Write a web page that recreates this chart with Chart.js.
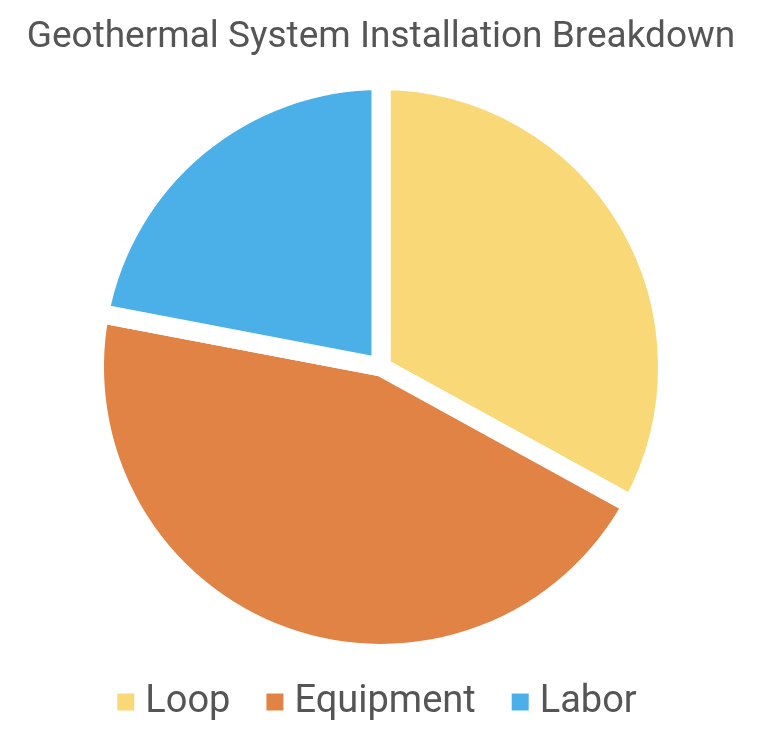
<!DOCTYPE html>
<html>
<head>
<meta charset="utf-8">
<script src="https://cdn.jsdelivr.net/npm/chart.js@4/dist/chart.umd.min.js"></script>
<style>
html,body{margin:0;padding:0;background:#ffffff;}
#wrap{width:768px;height:736px;position:relative;}
</style>
</head>
<body>
<div id="wrap"><canvas id="c"></canvas></div>
<script>
const categories = ['Loop', 'Equipment', 'Labor'];
const shares = [33, 45, 22];
const sliceColors = ['#F9D878', '#E08344', '#4CB0E8'];
const chartTitle = 'Geothermal System Installation Breakdown';

const textColor = '#555555';
const fontFamily = 'Roboto, "Noto Sans", sans-serif';

new Chart(document.getElementById('c'), {
  type: 'pie',
  data: {
    labels: categories,
    datasets: [{
      data: shares,
      backgroundColor: sliceColors,
      borderColor: '#ffffff',
      borderWidth: 19,
      radius: 286.5,
      clip: false
    }]
  },
  options: {
    responsive: true,
    maintainAspectRatio: false,
    animation: false,
    layout: { padding: { left: 0, right: 6, top: 0, bottom: 5 } },
    plugins: {
      title: {
        display: true,
        text: chartTitle,
        color: textColor,
        font: { family: fontFamily, size: 37, weight: 'normal' },
        padding: { top: 16, bottom: 34.6 }
      },
      legend: {
        display: true,
        position: 'bottom',
        labels: {
          color: textColor,
          font: { family: fontFamily, size: 38 },
          boxWidth: 1,
          boxHeight: 1,
          padding: 44,
          generateLabels: function(chart) {
            const items = Chart.overrides.pie.plugins.legend.labels.generateLabels(chart);
            return items.map(function(it) {
              it.strokeStyle = it.fillStyle;
              it.lineWidth = 16;
              it.lineJoin = 'miter';
              return it;
            });
          }
        }
      },
      tooltip: { enabled: false }
    }
  }
});
</script>
</body>
</html>
